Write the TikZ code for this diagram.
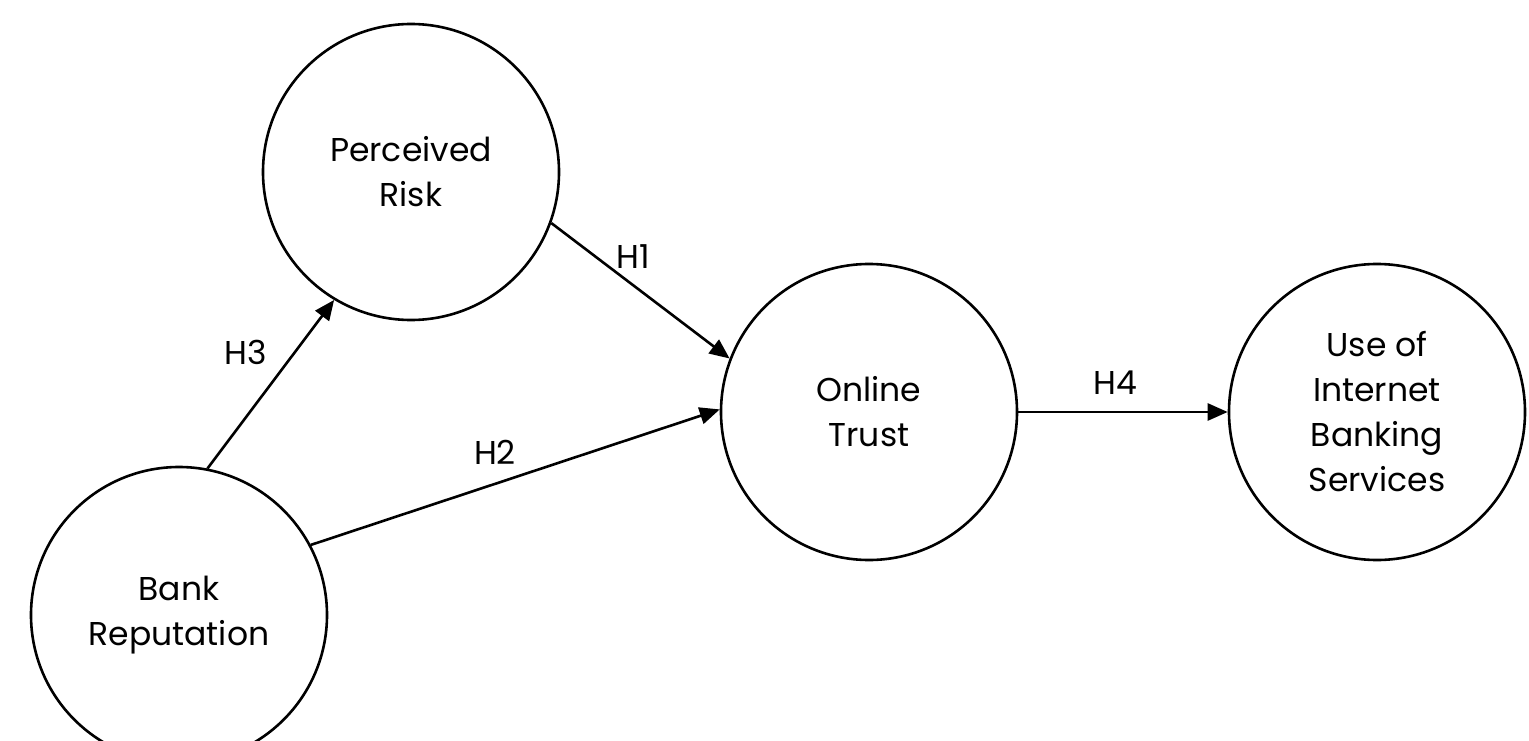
\documentclass[tikz,border=0pt]{standalone}
\usepackage{fontspec}
\setmainfont{Poppins}
\usetikzlibrary{arrows.meta}
\begin{document}
\begin{tikzpicture}[x=1pt,y=-1pt,
  construct/.style={circle,draw,line width=2.6pt,minimum size=296pt,inner sep=0pt,align=center,font=\fontsize{33}{45}\selectfont},
  hyp/.style={-{Triangle[length=20pt,width=17pt]},line width=2.6pt},
  lbl/.style={font=\fontsize{33}{38}\selectfont}]
\useasboundingbox (0,0) rectangle (1529,741);
\node[construct] (pr) at (411,172) {Perceived\\Risk};
\node[construct] (ot) at (869,412) {Online\\Trust};
\node[construct] (use) at (1377,412) {Use of\\Internet\\Banking\\Services};
\node[construct] (br) at (179,615) {Bank\\Reputation};
\draw[hyp] (br.79) -- (pr.239);
\draw[hyp] (pr.-20) -- (ot.159);
\draw[hyp] (br.28) -- (ot.179);
\draw[hyp] (ot.0) -- (use.180);
\node[lbl] (h3) at (246,352) {H3};
\node[lbl] (h1) at (633,257) {H1};
\node[lbl] (h2) at (495,452) {H2};
\node[lbl] (h4) at (1115,383) {H4};
\end{tikzpicture}
\end{document}
